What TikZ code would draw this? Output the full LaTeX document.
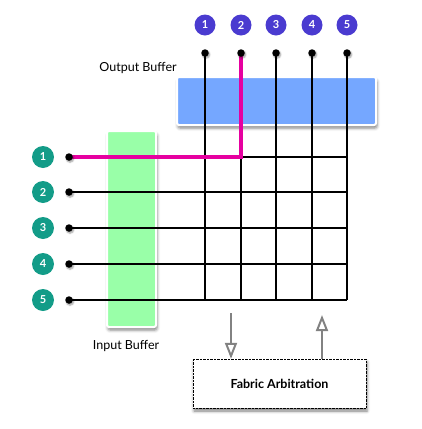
\documentclass[tikz,border=0pt]{standalone}
\usepackage{fontspec}
\setmainfont{Lato}
\usetikzlibrary{arrows.meta,shadows.blur}
\definecolor{outblue}{RGB}{74,59,208}
\definecolor{inteal}{RGB}{19,156,136}
\definecolor{bufblue}{RGB}{117,167,255}
\definecolor{bufgreen}{RGB}{153,255,168}
\definecolor{route}{RGB}{230,0,160}
\definecolor{ctrlgray}{RGB}{130,130,130}

\begin{document}
\begin{tikzpicture}[x=1pt, y=-1pt,
		portin/.style={circle, fill=inteal, text=white, font=\bfseries\fontsize{11}{11}\selectfont, minimum size=22pt, inner sep=0pt},
		portout/.style={circle, fill=outblue, text=white, font=\bfseries\fontsize{11}{11}\selectfont, minimum size=21pt, inner sep=0pt},
		pin/.style={circle, fill=black, minimum size=7.5pt, inner sep=0pt, blur shadow={shadow xshift=1pt, shadow yshift=-1.5pt, shadow blur radius=1.5pt, shadow opacity=40}},
		buffer/.style={draw=white, line width=2pt, rounded corners=2pt, inner sep=0pt, blur shadow={shadow xshift=1pt, shadow yshift=-3pt, shadow blur radius=3pt, shadow opacity=50}},
		wire/.style={line width=1.3pt},
		routed/.style={line width=4pt, color=route},
		ctrl/.style={line width=2.5pt, color=ctrlgray, -{Triangle[open, length=16pt, width=12pt, line width=2pt]}}
	]
	\useasboundingbox (0,0) rectangle (422,429);

	% buffers
	\node[buffer, fill=bufgreen, minimum width=49pt, minimum height=196pt] (inbuf) at (131.5,229) {};
	\node[buffer, fill=bufblue, minimum width=199pt, minimum height=48pt] (outbuf) at (276.5,101) {};

	\node[font=\fontsize{12.5}{14}\selectfont] (outlbl) at (138,68) {Output Buffer};
	\node[font=\fontsize{12.5}{14}\selectfont] (inlbl) at (126,346) {Input Buffer};

	% output ports
	\node[portout] (o1) at (205,25) {1};
	\node[portout] (o2) at (241,25) {2};
	\node[portout] (o3) at (276,25) {3};
	\node[portout] (o4) at (312,25) {4};
	\node[portout] (o5) at (347,25) {5};

	% input ports
	\node[portin] (i1) at (43,157) {1};
	\node[portin] (i2) at (43,192) {2};
	\node[portin] (i3) at (43,228) {3};
	\node[portin] (i4) at (43,264) {4};
	\node[portin] (i5) at (43,300) {5};

	\coordinate (o1d) at (205,53);
	\coordinate (o2d) at (241,53);
	\coordinate (o3d) at (276,53);
	\coordinate (o4d) at (312,53);
	\coordinate (o5d) at (347,53);
	\coordinate (i1d) at (69,157);
	\coordinate (i2d) at (69,192);
	\coordinate (i3d) at (69,228);
	\coordinate (i4d) at (69,264);
	\coordinate (i5d) at (69,300);

	% crossbar
	\draw[wire] (o1d) -- (o1d |- i5d);
	\draw[wire] (o2d) -- (o2d |- i5d);
	\draw[wire] (o3d) -- (o3d |- i5d);
	\draw[wire] (o4d) -- (o4d |- i5d);
	\draw[wire] (o5d) -- (o5d |- i5d);
	\draw[wire] (i1d) -- (i1d -| o5d);
	\draw[wire] (i2d) -- (i2d -| o5d);
	\draw[wire] (i3d) -- (i3d -| o5d);
	\draw[wire] (i4d) -- (i4d -| o5d);
	\draw[wire] (i5d) -- (i5d -| o5d);

	\draw[routed] (i1d) -| (o2d);

	\node[pin] (p1) at (o1d) {};
	\node[pin] (p2) at (o2d) {};
	\node[pin] (p3) at (o3d) {};
	\node[pin] (p4) at (o4d) {};
	\node[pin] (p5) at (o5d) {};
	\node[pin] (q1) at (i1d) {};
	\node[pin] (q2) at (i2d) {};
	\node[pin] (q3) at (i3d) {};
	\node[pin] (q4) at (i4d) {};
	\node[pin] (q5) at (i5d) {};

	% arbitration
	\node[draw, densely dotted, fill=white, minimum width=173pt, minimum height=49pt, font=\bfseries\fontsize{12.5}{14}\selectfont, blur shadow={shadow xshift=1pt, shadow yshift=-3pt, shadow blur radius=3pt, shadow opacity=50}] (fab) at (279.5,383.5) {Fabric Arbitration};

	\coordinate (req) at (231,313);
	\coordinate (gnt) at (322,315);
	\draw[ctrl] (req) -- (req |- fab.north);
	\draw[ctrl] (gnt |- fab.north) -- (gnt);
\end{tikzpicture}
\end{document}
